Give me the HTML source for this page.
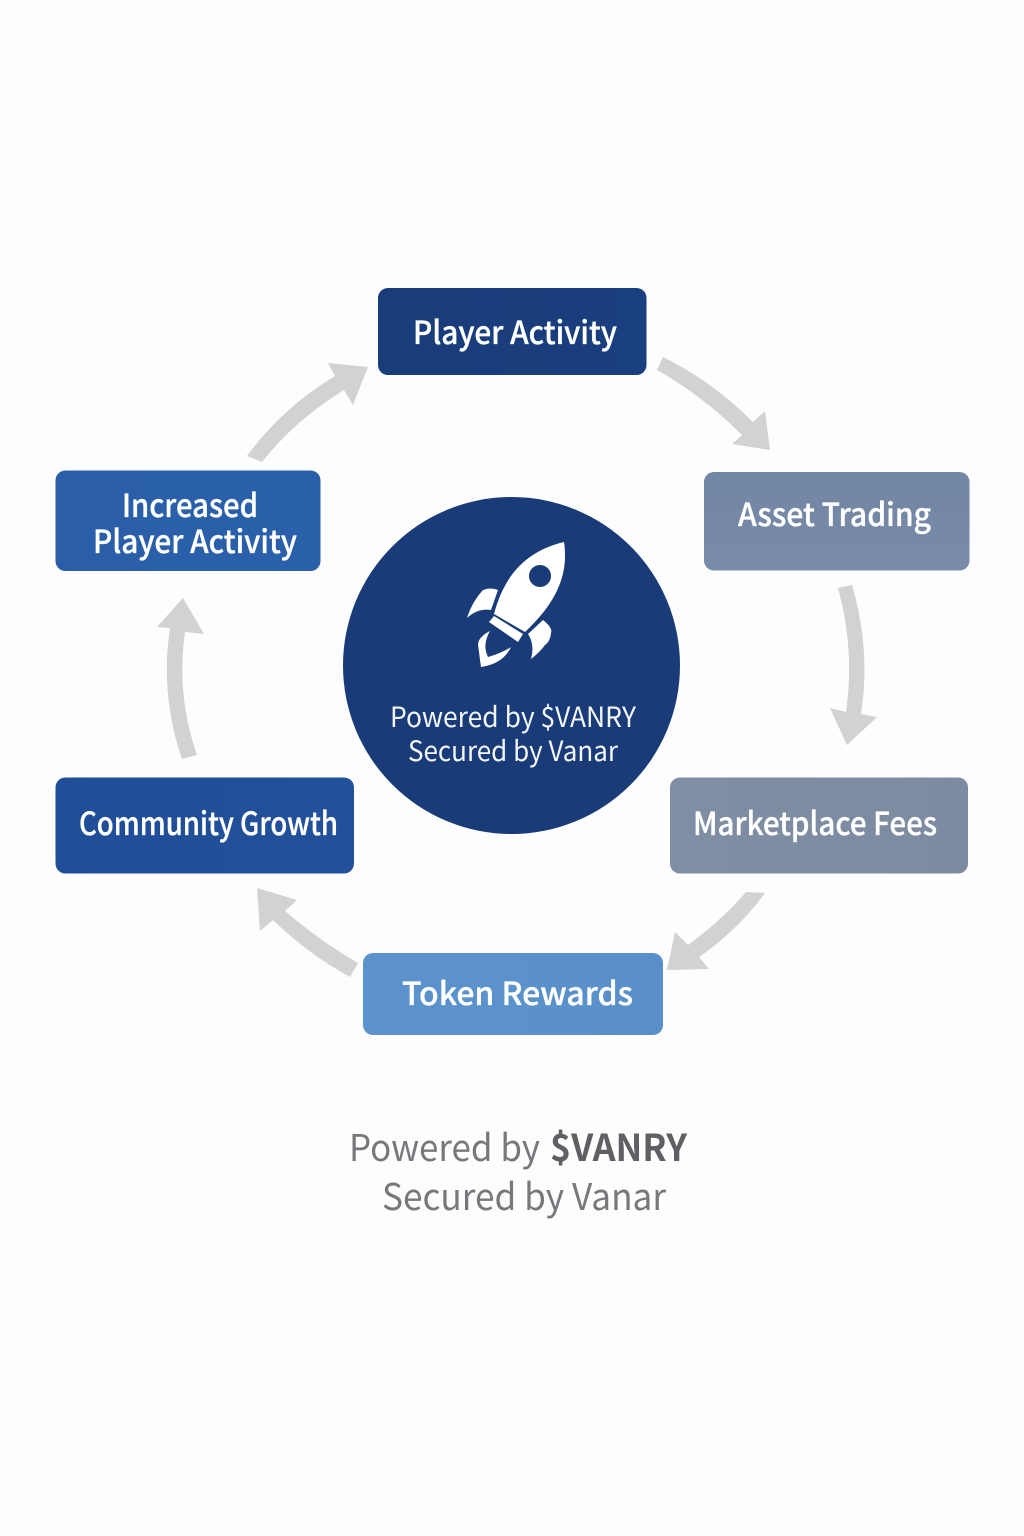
<!DOCTYPE html>
<html lang="en">
<head>
<meta charset="utf-8">
<title>Vanar Flywheel</title>
<style>
html,body{margin:0;padding:0;background:#fdfdfe;}
svg{display:block;}
text{font-family:"Noto Sans CJK SC","Liberation Sans",sans-serif;}
.b{fill:#fff;stroke:#fff;stroke-width:.35px;font-weight:500;font-size:32px;}
.c{fill:#f4f6fa;font-weight:400;font-size:28px;}
.g{fill:#77787c;font-weight:400;font-size:37px;}
.gb{fill:#5f6064;font-weight:700;font-size:37px;}
</style>
</head>
<body>
<svg width="1024" height="1536" viewBox="0 0 1024 1536" xmlns="http://www.w3.org/2000/svg">
<defs>
<linearGradient id="g1" x1="0" y1="0" x2="1" y2="0"><stop offset="0" stop-color="#193c7a"/><stop offset="1" stop-color="#1a3f7e"/></linearGradient>
<linearGradient id="g2" x1="0" y1="0" x2="0" y2="1"><stop offset="0" stop-color="#7287a5"/><stop offset="1" stop-color="#788ba8"/></linearGradient>
<linearGradient id="g3" x1="0" y1="0" x2="1" y2="0"><stop offset="0" stop-color="#808ea4"/><stop offset="1" stop-color="#7d8ba2"/></linearGradient>
<linearGradient id="g4" x1="0" y1="0" x2="1" y2="0"><stop offset="0" stop-color="#5c93cd"/><stop offset="1" stop-color="#5a90ca"/></linearGradient>
<linearGradient id="g5" x1="0" y1="0" x2="1" y2="0"><stop offset="0" stop-color="#1f4d97"/><stop offset="1" stop-color="#22519a"/></linearGradient>
<linearGradient id="g6" x1="0" y1="0" x2="1" y2="0"><stop offset="0" stop-color="#2a5ea8"/><stop offset="1" stop-color="#2a60aa"/></linearGradient>
</defs>
<rect width="1024" height="1536" fill="#fdfdfe"/>

<!-- Arrows -->
<g fill="#d2d2d2">
<path d="M663 357 Q712 381 753 422 L765 411 L770 450 L732 444 L742 435 Q703 396 657 370 Z"/>
<path d="M838 588 Q855 650 846 712 L830 708 L847 745 L877 717 L861 714 Q871 650 852 585 Z"/>
<path d="M746 892 Q722 920 688 945 L675 932 L667 970 L709 969 L699 957 Q738 930 765 893 Z"/>
<path d="M358 963 Q320 941 285 911 L297 900 L257 888 L260 931 L273 920 Q308 954 350 977 Z"/>
<path d="M182 759 Q160 695 170 628 L157 627 L183 598 L204 634 L185 632 Q176 695 197 755 Z"/>
<path d="M247 456 Q282 408 335 376 L328 363 L368 367 L353 405 L344 390 Q295 420 262 462 Z"/>
</g>

<!-- Boxes -->
<rect x="378" y="288" width="268.500" height="87" rx="10" fill="url(#g1)"/>
<rect x="704" y="472" width="265.500" height="98.500" rx="10" fill="url(#g2)"/>
<rect x="670" y="777.500" width="298" height="96" rx="10" fill="url(#g3)"/>
<rect x="363" y="953" width="300" height="82" rx="10" fill="url(#g4)"/>
<rect x="55.500" y="777.500" width="298.500" height="96" rx="10" fill="url(#g5)"/>
<rect x="55.500" y="470.500" width="265" height="100.500" rx="10" fill="url(#g6)"/>

<!-- Box labels -->
<text class="b" x="413" y="344" textLength="204" lengthAdjust="spacingAndGlyphs">Player Activity</text>
<text class="b" x="738" y="526" textLength="193" lengthAdjust="spacingAndGlyphs">Asset Trading</text>
<text class="b" x="693" y="835" textLength="244" lengthAdjust="spacingAndGlyphs">Marketplace Fees</text>
<text class="b" x="402" y="1005" textLength="231" lengthAdjust="spacingAndGlyphs">Token Rewards</text>
<text class="b" x="79" y="835" textLength="259" lengthAdjust="spacingAndGlyphs">Community Growth</text>
<text class="b" x="122" y="517" textLength="136" lengthAdjust="spacingAndGlyphs">Increased</text>
<text class="b" x="93" y="553" textLength="204" lengthAdjust="spacingAndGlyphs">Player Activity</text>

<!-- Centre circle -->
<circle cx="511.500" cy="665.500" r="168.500" fill="#193b78"/>

<!-- Rocket -->
<g fill="#fff">
<path fill-rule="evenodd" d="M564 542 C569 575 556 603 525 632 L494 614 C503 580 522 552 564 542 Z M540 565 a11 11 0 1 0 0.010 0 Z"/>
<path d="M494 616 L489 622 L518 642 L523 634 Z"/>
<path d="M467 618 Q472 602 483 590 Q490 587 498 590 L491 610 Q478 608 467 618 Z"/>
<path d="M528 634 L543 620 Q553 628 551 633 Q550 642 545 645 Q540 652 531 659 Q535 645 528 634 Z"/>
<path d="M490 631 Q478 637 478 645 L481 667 Q503 664 511 647 Q502 653 488 657 Q482 645 490 631 Z"/>
</g>

<text class="c" x="390" y="727" textLength="246" lengthAdjust="spacingAndGlyphs">Powered by $VANRY</text>
<text class="c" x="408" y="761" textLength="210" lengthAdjust="spacingAndGlyphs">Secured by Vanar</text>

<!-- Footer caption -->
<text class="g" x="349" y="1161" textLength="191" lengthAdjust="spacingAndGlyphs">Powered by</text>
<text class="gb" x="550" y="1161" textLength="137" lengthAdjust="spacingAndGlyphs">$VANRY</text>
<text class="g" x="382" y="1210" textLength="284" lengthAdjust="spacingAndGlyphs">Secured by Vanar</text>
</svg>
</body>
</html>
